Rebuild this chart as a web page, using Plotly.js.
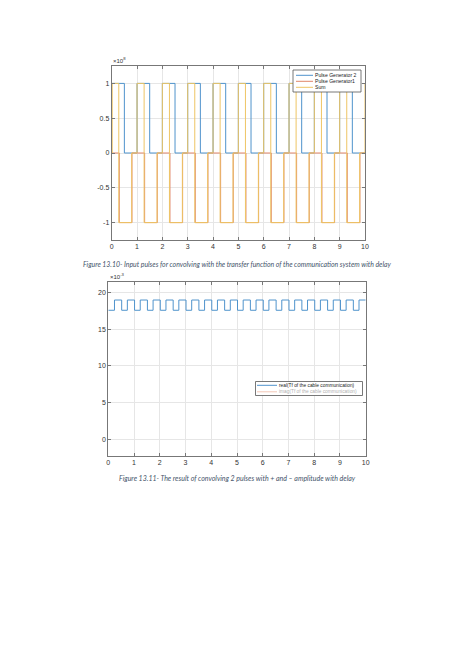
<!DOCTYPE html>
<html>
<head>
<meta charset="utf-8">
<script src="https://cdn.plot.ly/plotly-3.0.1.min.js"></script>
<style>
  html, body { margin: 0; padding: 0; background: #fff; }
  #fig { width: 474px; height: 670px; }
</style>
</head>
<body>
<div id="fig"></div>
<script>
// figure 13.10 - input pulses (values in units of 1e8)
var tGen2 = [0, 0.5, 1, 1.5, 2, 2.5, 3, 3.5, 4, 4.5, 5, 5.5, 6, 6.5, 7, 7.5, 8, 8.5, 9, 9.5, 10];
var yGen2 = [1, 0, 1, 0, 1, 0, 1, 0, 1, 0, 1, 0, 1, 0, 1, 0, 1, 0, 1, 0, 0];

var tGen1 = [0, 0.3, 0.8, 1.3, 1.8, 2.3, 2.8, 3.3, 3.8, 4.3, 4.8, 5.3, 5.8, 6.3, 6.8, 7.3, 7.8, 8.3, 8.8, 9.3, 9.8, 10];
var yGen1 = [0, -1, 0, -1, 0, -1, 0, -1, 0, -1, 0, -1, 0, -1, 0, -1, 0, -1, 0, -1, 0, 0];

var tSum = [0, 0.02, 0.28, 0.79, 1, 1.28, 1.79, 2, 2.28, 2.79, 3, 3.28, 3.79, 4, 4.28, 4.79,
            5, 5.28, 5.79, 6, 6.28, 6.79, 7, 7.28, 7.79, 8, 8.28, 8.79, 9, 9.28, 9.79, 10];
var ySum = [0, 1, -1, 0, 1, -1, 0, 1, -1, 0, 1, -1, 0, 1, -1, 0,
            1, -1, 0, 1, -1, 0, 1, -1, 0, 1, -1, 0, 1, -1, 0, 1];

// figure 13.11 - convolution result (values in units of 1e-3)
var tConv = [0, 0.24, 0.52, 0.74, 1.02, 1.24, 1.52, 1.74, 2.02, 2.24, 2.52, 2.74, 3.02, 3.24,
             3.52, 3.74, 4.02, 4.24, 4.52, 4.74, 5.02, 5.24, 5.52, 5.74, 6.02, 6.24, 6.52, 6.74,
             7.02, 7.24, 7.52, 7.74, 8.02, 8.24, 8.52, 8.74, 9.02, 9.24, 9.52, 9.74, 10];
var yReal = [17.6, 19.0, 17.6, 19.0, 17.6, 19.0, 17.6, 19.0, 17.6, 19.0, 17.6, 19.0, 17.6, 19.0,
             17.6, 19.0, 17.6, 19.0, 17.6, 19.0, 17.6, 19.0, 17.6, 19.0, 17.6, 19.0, 17.6, 19.0,
             17.6, 19.0, 17.6, 19.0, 17.6, 19.0, 17.6, 19.0, 17.6, 19.0, 17.6, 19.0, 19.0];
var tImag = [0, 10];
var yImag = [0, 0];

var xTicks = [0, 1, 2, 3, 4, 5, 6, 7, 8, 9, 10];
var yTicks1 = [-1, -0.5, 0, 0.5, 1];
var yTickText1 = ['-1', '-0.5', '0', '0.5', '1'];
var yTicks2 = [0, 5, 10, 15, 20];

var names1 = ['Pulse Generator 2', 'Pulse Generator1', 'Sum'];
var names2 = ['real(Tf of the cable communication)', 'imag(Tf of the cable communication)'];

var caption1 = 'Figure 13.10- Input pulses for convolving with the transfer function of the communication system with delay';
var caption2 = 'Figure 13.11- The result of convolving 2 pulses with + and \u2013 amplitude with delay';

var blue = '#4f93cc', orange = '#e0866a', yellow = '#eec564';
var W = 474, H = 670;
var sans = 'Liberation Sans, Arial, sans-serif';
var tickFont = {family: sans, size: 7, color: '#333'};

function px(x) { return x / W; }
function py(y) { return 1 - y / H; }

function axisStyle(extra) {
  var a = {
    showline: true, mirror: 'ticks', linecolor: '#777', linewidth: 1,
    ticks: 'inside', ticklen: 3, tickcolor: '#777',
    showgrid: true, gridcolor: '#e6e6e6', gridwidth: 1,
    zeroline: false, tickfont: tickFont, fixedrange: true
  };
  for (var k in extra) a[k] = extra[k];
  return a;
}

var traces = [
  {x: tGen2, y: yGen2, name: names1[0], mode: 'lines', line: {shape: 'hv', color: blue, width: 1}, xaxis: 'x', yaxis: 'y'},
  {x: tGen1, y: yGen1, name: names1[1], mode: 'lines', line: {shape: 'hv', color: orange, width: 1}, xaxis: 'x', yaxis: 'y'},
  {x: tSum, y: ySum, name: names1[2], mode: 'lines', line: {shape: 'hv', color: yellow, width: 1}, xaxis: 'x', yaxis: 'y'},
  {x: tConv, y: yReal, name: names2[0], mode: 'lines', line: {shape: 'hv', color: blue, width: 1}, xaxis: 'x2', yaxis: 'y2'},
  // imag part is switched off in the original scope, only its legend entry is left
  {x: tImag, y: yImag, name: names2[1], mode: 'lines', line: {color: orange, width: 1}, xaxis: 'x2', yaxis: 'y2', visible: false}
];

// hand made legends, matlab style (plotly legend rows are too tall at this size)
var shapes = [], annotations = [];
function addLegend(box, lineX0, lineX1, textX, rows, names, lineColors, textColors, fs) {
  shapes.push({type: 'rect', xref: 'paper', yref: 'paper', x0: px(box[0]), x1: px(box[2]), y0: py(box[3]), y1: py(box[1]),
               line: {color: '#555', width: 0.8}, fillcolor: '#fff', layer: 'above'});
  for (var i = 0; i < names.length; i++) {
    shapes.push({type: 'line', xref: 'paper', yref: 'paper', x0: px(lineX0), x1: px(lineX1), y0: py(rows[i]), y1: py(rows[i]),
                 line: {color: lineColors[i], width: 1}, layer: 'above'});
    annotations.push({text: names[i], xref: 'paper', yref: 'paper', x: px(textX), y: py(rows[i]),
                      xanchor: 'left', yanchor: 'middle', showarrow: false, borderpad: 0,
                      font: {family: sans, size: fs, color: textColors[i]}});
  }
}
addLegend([293, 70, 361, 92], 296, 313, 314, [75.3, 81.3, 87.3], names1,
          [blue, orange, yellow], ['#222', '#222', '#222'], 5.1);
addLegend([255.5, 381.5, 362.5, 395.5], 257, 277, 277.5, [385.3, 391.8], names2,
          [blue, '#f3c7b6'], ['#222', '#b0b0b0'], 4.8);

annotations.push(
  {text: '\u00d710<sup>8</sup>', xref: 'paper', yref: 'paper', x: px(111), y: py(66),
   xanchor: 'left', yanchor: 'bottom', showarrow: false, font: {family: sans, size: 6, color: '#333'}},
  {text: '\u00d710<sup>-3</sup>', xref: 'paper', yref: 'paper', x: px(108), y: py(281.7),
   xanchor: 'left', yanchor: 'bottom', showarrow: false, font: {family: sans, size: 6, color: '#333'}},
  {text: '<i>' + caption1 + '</i>', xref: 'paper', yref: 'paper', x: px(237), y: py(264),
   xanchor: 'center', yanchor: 'middle', showarrow: false, font: {family: 'Lato, sans-serif', size: 6.9, color: '#44546A'}},
  {text: '<i>' + caption2 + '</i>', xref: 'paper', yref: 'paper', x: px(237), y: py(478),
   xanchor: 'center', yanchor: 'middle', showarrow: false, font: {family: 'Lato, sans-serif', size: 7, color: '#44546A'}}
);

var layout = {
  width: W, height: H,
  margin: {l: 0, r: 0, t: 0, b: 0},
  paper_bgcolor: '#fff', plot_bgcolor: '#fff',
  showlegend: false,
  xaxis: axisStyle({domain: [px(111.7), px(365)], range: [0, 10], tickvals: xTicks, anchor: 'y'}),
  yaxis: axisStyle({domain: [py(240), py(66)], range: [-1.25, 1.25], tickvals: yTicks1, ticktext: yTickText1, anchor: 'x'}),
  xaxis2: axisStyle({domain: [px(108.3), px(365.7)], range: [0, 10], tickvals: xTicks, anchor: 'y2'}),
  yaxis2: axisStyle({domain: [py(455.7), py(281.7)], range: [-2.25, 21.5], tickvals: yTicks2, anchor: 'x2'}),
  shapes: shapes,
  annotations: annotations
};

Plotly.newPlot('fig', traces, layout, {displayModeBar: false, staticPlot: true});
</script>
</body>
</html>
